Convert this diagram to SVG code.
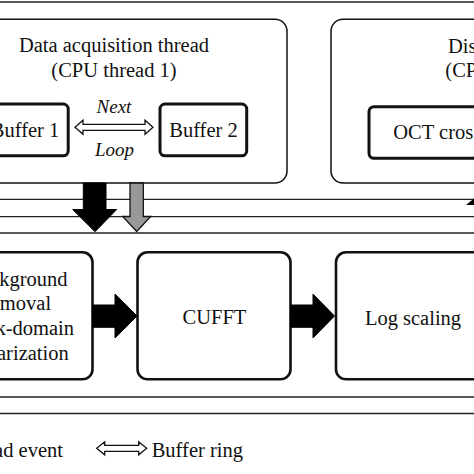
<svg xmlns="http://www.w3.org/2000/svg" width="474" height="474" viewBox="0 0 474 474">
<style>
text{font-family:"Liberation Serif","Times New Roman",serif;font-size:20.5px;fill:#111}
.it{font-style:italic;font-size:19px}
.mid{text-anchor:middle}
.big{fill:#fff;stroke:#111;stroke-width:1.5}
.buf{fill:#fff;stroke:#111;stroke-width:3}
.proc{fill:#fff;stroke:#111;stroke-width:2.6}
.ln{stroke:#222;stroke-width:1.3;fill:none}
.hollow{fill:#fff;stroke:#111;stroke-width:1.3;stroke-linejoin:miter}
.blk{fill:#000;stroke:#000;stroke-width:1}
.gry{fill:#999;stroke:#111;stroke-width:1.3}
</style>
<rect x="0" y="0" width="474" height="474" fill="#fff"/>
<g id="lines">
<line class="ln" x1="0" y1="2" x2="474" y2="2" stroke-width="1.1"/>
<line class="ln" x1="0" y1="199.3" x2="474" y2="199.3"/>
<polygon points="466,205 474,198.5 474,205" fill="#000"/>
<line class="ln" x1="0" y1="216.7" x2="474" y2="216.7"/>
<line class="ln" x1="0" y1="233" x2="474" y2="233"/>
<line class="ln" x1="0" y1="397" x2="474" y2="397" stroke-width="2.2"/>
<line class="ln" x1="0" y1="413.5" x2="474" y2="413.5"/>
</g>
<g id="acq-thread">
<rect class="big" x="-60" y="19.3" width="347" height="163.7" rx="12"/>
<text class="mid" x="114" y="52.3">Data acquisition thread</text>
<text class="mid" x="114" y="77.3">(CPU thread 1)</text>
</g>
<g id="buffer1">
<rect class="buf" x="-18.5" y="104" width="86.7" height="51.8" rx="5"/>
<text class="mid" x="25" y="137.3">Buffer 1</text>
</g>
<g id="buffer2">
<rect class="buf" x="160" y="104" width="86.7" height="51.8" rx="5"/>
<text class="mid" x="203.5" y="137.3">Buffer 2</text>
</g>
<g id="display-thread">
<rect class="big" x="331" y="19.3" width="354" height="163.7" rx="12"/>
<text class="mid" x="508" y="52.5">Display thread</text>
<text class="mid" x="508" y="77.3">(CPU thread 2)</text>
</g>
<g id="oct-display">
<rect class="buf" x="369" y="106.7" width="280" height="51.6" rx="5"/>
<text x="393.3" y="139">OCT cross-section</text>
</g>
<g id="preprocess">
<rect class="proc" x="-62" y="252.3" width="154.5" height="127" rx="10"/>
<text class="mid" x="17.5" y="285.5">Background</text>
<text class="mid" x="17.5" y="310.3">removal</text>
<text x="74" y="335" text-anchor="end">k-domain</text>
<text class="mid" x="17.5" y="360">linearization</text>
</g>
<g id="cufft">
<rect class="proc" x="137.5" y="252.3" width="153" height="127" rx="10"/>
<text class="mid" x="214.5" y="324">CUFFT</text>
</g>
<g id="logscale">
<rect class="proc" x="336" y="252.3" width="156" height="127" rx="10"/>
<text class="mid" x="413" y="324.5">Log scaling</text>
</g>
<g id="connectors">
<polygon class="hollow" points="75,127.3 83,120.3 83,124.3 145,124.3 145,120.3 153,127.3 145,134.3 145,130.3 83,130.3 83,134.3"/>
<text class="it mid" x="114" y="113">Next</text>
<text class="it mid" x="114.5" y="156.3">Loop</text>
<polygon class="blk" points="83.3,183 106,183 106,209.5 116.7,209.5 95,231.7 72.7,209.5 83.3,209.5"/>
<polygon class="gry" points="130,183 143.3,183 143.3,216.5 150.7,216.5 136.7,231.5 122.7,216.5 130,216.5"/>
<polygon class="blk" points="92.5,305 115,305 115,294 137,316 115,338 115,327.3 92.5,327.3"/>
<polygon class="blk" points="290.5,305 313,305 313,294 334.5,316 313,338 313,327.3 290.5,327.3"/>
</g>
<g id="legend">
<text x="63" y="457" text-anchor="end">Thread event</text>
<polygon class="hollow" points="96.7,448.3 104.7,441.8 104.7,445.3 138.7,445.3 138.7,441.8 146.7,448.3 138.7,454.8 138.7,451.3 104.7,451.3 104.7,454.8"/>
<text x="151.7" y="457.3">Buffer ring</text>
</g>
</svg>
